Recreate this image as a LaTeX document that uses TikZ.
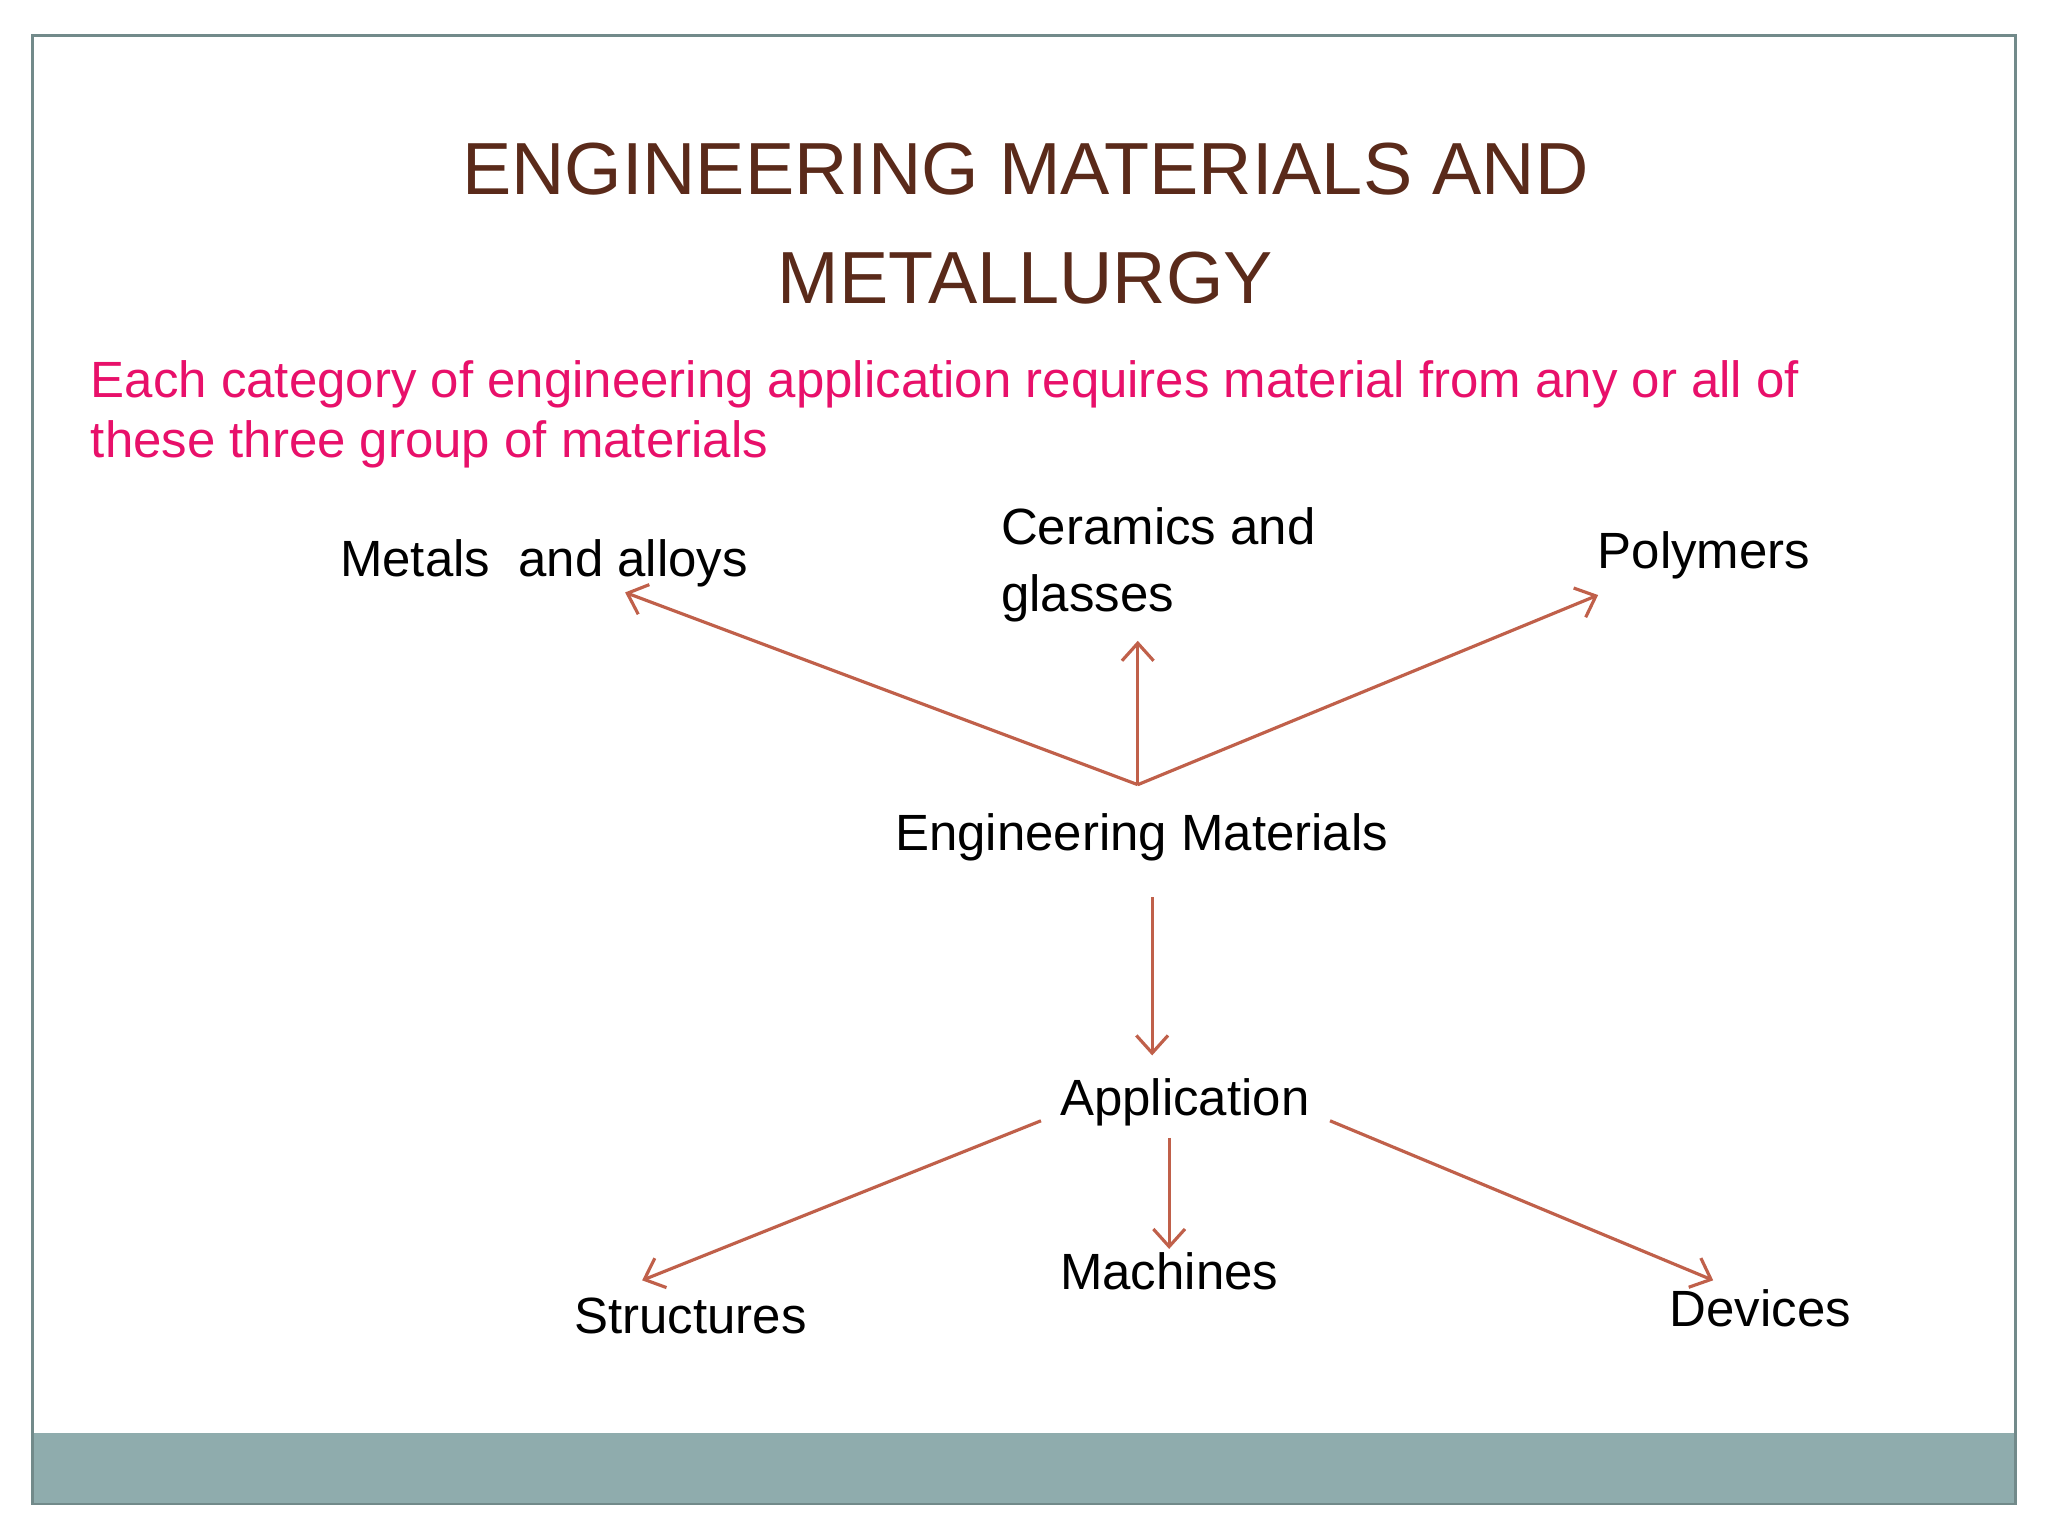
\documentclass[tikz,border=0pt]{standalone}
\usepackage{fontspec}
\setmainfont{Liberation Sans}
\usetikzlibrary{arrows.meta}
\definecolor{brownT}{HTML}{5A2A1A}
\definecolor{pinkT}{HTML}{E8106A}
\definecolor{arr}{HTML}{C0604A}
\definecolor{bar}{HTML}{8FACAD}
\begin{document}
\begin{tikzpicture}[x=0.013078cm,y=-0.013078cm,
  lbl/.style={font=\fontsize{14.5}{19}\selectfont,inner sep=0pt},
  conn/.style={draw=arr,line width=0.9pt,-{Straight Barb[length=5pt,width=9pt]}}]
\useasboundingbox (0,0) rectangle (1566,1175);
\fill[white] (0,0) rectangle (1566,1175);
\fill[bar] (25,1096) rectangle (1541,1150);
\draw[bar!80!black,line width=0.8pt] (25,27) rectangle (1541,1150);
\node[font=\fontsize{21}{31}\selectfont,text=brownT,align=center] (title) at (784,171) {ENGINEERING MATERIALS AND\\METALLURGY};
\node[font=\fontsize{14.5}{17}\selectfont,text=pinkT,align=left,anchor=west] (intro) at (60,317) {Each category of engineering application requires material from any or all of\\these three group of materials};
\node[lbl] (metals) at (416,431) {Metals\ \ and alloys};
\node[lbl,align=left,anchor=west] (ceram) at (765,432) {Ceramics and\\glasses};
\node[lbl] (poly) at (1303,425) {Polymers};
\node[lbl] (eng) at (873,640) {Engineering Materials};
\node[lbl] (app) at (906,843) {Application};
\node[lbl] (struct) at (528,1006) {Structures};
\node[lbl] (mach) at (894,972) {Machines};
\node[lbl] (dev) at (1346,1000) {Devices};
\coordinate (hub) at (870,600);
\coordinate (mE) at (478,453);
\coordinate (cE) at (870,490);
\coordinate (pE) at (1222,455);
\coordinate (eS) at (881,686);
\coordinate (aE) at (881,807);
\coordinate (s1) at (796,857);
\coordinate (s2) at (894,870);
\coordinate (s3) at (1017,857);
\coordinate (stE) at (491,979);
\coordinate (maE) at (894,955);
\coordinate (deE) at (1310,979);
\draw[conn] (hub) -- (mE);
\draw[conn] (hub) -- (cE);
\draw[conn] (hub) -- (pE);
\draw[conn] (eS) -- (aE);
\draw[conn] (s1) -- (stE);
\draw[conn] (s2) -- (maE);
\draw[conn] (s3) -- (deE);
\end{tikzpicture}
\end{document}
